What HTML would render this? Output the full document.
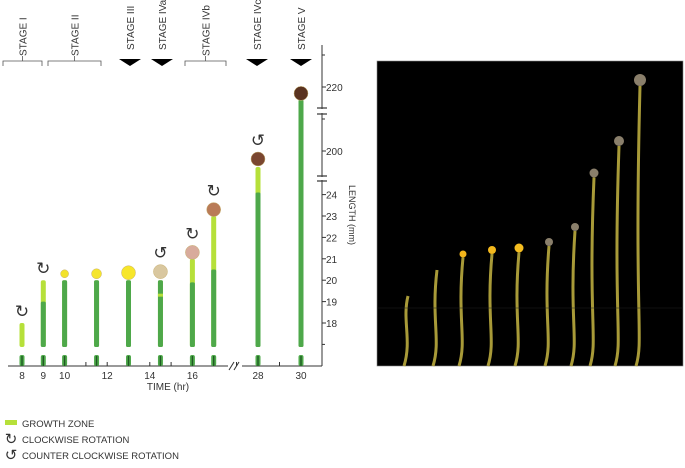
<!DOCTYPE html>
<html><head><meta charset="utf-8"><style>
body{margin:0;background:#fff;width:685px;height:463px;overflow:hidden;font-family:"Liberation Sans",sans-serif}
svg text{font-family:"Liberation Sans","DejaVu Sans",sans-serif;fill:#333}
</style></head><body>
<svg id="chart" width="685" height="463" viewBox="0 0 685 463"></svg>
<script>
const times=[8,9,10,11.5,13,14.5,16,17,28,30];
const darkTop=[16.8,19,20,20,20,20,19.9,20.5,24.1,216];
const lightTop=[18,20,20,20,20,20,21,23,195,216];
const headVal=[null,null,20.3,20.3,20.35,20.4,21.3,23.3,197.5,218];
const headR=[0,0,4,5,7,7,7,7,7,7];
const headColor=[null,null,'#f2e22a','#f5e52c','#f7e62a','#d9c79f','#d8ab9c','#b97b57','#7a4630','#5a3320'];
const rotation=['cw','cw',null,null,null,'ccw','cw','cw','ccw',null];
const xTickLabels=[8,9,10,12,14,16,28,30];
const yLowTicks=[18,19,20,21,22,23,24];
const yHighTicks=[200,220];
const stages=[['STAGE  I','b',3,42],['STAGE  II','b',48,101],['STAGE  III','a',130],['STAGE  IVa','a',162],['STAGE  IVb','b',185,226],['STAGE  IVc','a',257],['STAGE  V','a',301]];

const NS='http://www.w3.org/2000/svg';
const svg=document.getElementById('chart');
function mk(tag,attrs,parent){const e=document.createElementNS(NS,tag);for(const k in attrs)e.setAttribute(k,attrs[k]);(parent||svg).appendChild(e);return e;}
function xs(t){return t<=20?22+(t-8)*21.3:258+(t-28)*21.5;}
function ys(v){return v<=30?323-(v-18)*21.4:151-(v-200)*3.2;}
const DARK='#4ea84a',LIGHT='#b6e03a';

// photo
const ph=mk('rect',{x:377,y:61,width:306,height:305,fill:'#000',stroke:'#888','stroke-width':0.6});


const phx=[408,437,463,492,519,549,575,594,619,640];
const phTop=[296,270,254,250,248,242,227,173,141,80];
const phHead=[0,0,3.5,4,4.5,4,4,4.5,5,6];
const phCol=['','','#f3b51a','#f3b81d','#f5bd20','#8a7f6b','#8a7f6b','#8a7f6b','#8a7f6b','#8a7f6b'];
phx.forEach((x,i)=>{
  const p=mk('path',{d:`M${x-4} 366 C${x+4} 340 ${x-6} 320 ${x} ${phTop[i]+phHead[i]}`,fill:'none',stroke:'#a89a38','stroke-width':3});
  
  
  if(phHead[i]){const c=mk('circle',{cx:x,cy:phTop[i],r:phHead[i],fill:phCol[i]});
  
  }
});
mk('line',{x1:377,y1:308,x2:683,y2:308,stroke:'#222','stroke-width':0.6});

// axes
const xa=mk('line',{x1:8,y1:366,x2:322,y2:366,stroke:'#333','stroke-width':1});


const ya=mk('line',{x1:322,y1:45,x2:322,y2:366,stroke:'#333','stroke-width':1});


[[181,176],[114,108]].forEach(b=>{b.forEach(y=>mk('line',{x1:317,y1:y,x2:327,y2:y,stroke:'#333','stroke-width':1.2}));mk('rect',{x:320,y:b[1]+1,width:4,height:b[0]-b[1]-2,fill:'#fff'});});
mk('rect',{x:228,y:362,width:14,height:8,fill:'#fff'});
mk('line',{x1:229,y1:370,x2:234,y2:362,stroke:'#333'});mk('line',{x1:234,y1:370,x2:239,y2:362,stroke:'#333'});
[8,9,10,11,12,13,14,15,16,17].forEach(t=>mk('line',{x1:xs(t),y1:362,x2:xs(t),y2:366,stroke:'#333'}));
[27,28,29,30].forEach(t=>mk('line',{x1:xs(t),y1:362,x2:xs(t),y2:366,stroke:'#333'}));
xTickLabels.forEach(t=>{const e=mk('text',{x:xs(t),y:379,'font-size':10,'text-anchor':'middle'});e.textContent=t;

});
const xt=mk('text',{x:168,y:390,'font-size':10,'text-anchor':'middle'});xt.textContent='TIME (hr)';


yLowTicks.forEach(v=>{mk('line',{x1:322,y1:ys(v),x2:326,y2:ys(v),stroke:'#333'});const e=mk('text',{x:326,y:ys(v)+4,'font-size':10});e.textContent=v;

});
yHighTicks.forEach(v=>{mk('line',{x1:322,y1:ys(v),x2:326,y2:ys(v),stroke:'#333'});const e=mk('text',{x:326,y:ys(v)+4,'font-size':10});e.textContent=v;

});
[17.0,210,230].forEach(v=>mk('line',{x1:322,y1:ys(v),x2:325,y2:ys(v),stroke:'#333'}));
const yt=mk('text',{x:0,y:0,'font-size':9,transform:'translate(349,215) rotate(90)','text-anchor':'middle'});yt.textContent='LENGTH (mm)';



// bars
times.forEach((t,i)=>{
  const x=xs(t);
  const st=mk('rect',{x:x-2.5,y:355,width:5,height:11,rx:2,fill:DARK});
  
  
  mk('rect',{x:x-0.7,y:356,width:1.4,height:10,fill:'#1f5a22'});
  const lt=mk('rect',{x:x-2.5,y:ys(lightTop[i]),width:5,height:Math.max(0,347-ys(lightTop[i])),rx:2,fill:LIGHT});
  
  
  const dk=mk('rect',{x:x-2.5,y:ys(darkTop[i]),width:5,height:Math.max(0,347-ys(darkTop[i])),rx:1.5,fill:DARK});
  
  
  if(t===14.5) mk('rect',{x:x-2.5,y:ys(19.3)-1.5,width:5,height:3,fill:LIGHT});
  let topY=ys(lightTop[i]);
  if(headVal[i]!==null){
    const c=mk('circle',{cx:x,cy:ys(headVal[i]),r:headR[i],fill:headColor[i],stroke:'#c8b070','stroke-width':0.5});
    
    
    topY=ys(headVal[i])-headR[i];
  }
  if(rotation[i]){
    const r=mk('text',{x:x,y:topY-6,'font-size':17,'text-anchor':'middle',fill:'#333'});
    r.textContent=rotation[i]==='cw'?'\u21BB':'\u21BA';
    
    
  }
});

// stages
stages.forEach(s=>{
  const cx=s[1]==='b'?(s[2]+s[3])/2:s[2];
  const tx=mk('text',{x:0,y:0,'font-size':10,transform:`translate(${cx+4},${s[1]==='b'?56:50}) rotate(-90)`});tx.textContent=s[0];
  
  
  if(s[1]==='b'){
    const b=mk('path',{d:`M${s[2]} 66 V61 H${s[3]} V66 M${cx} 61 V56`,fill:'none',stroke:'#555','stroke-width':0.8});
    
    
  } else {
    const a=mk('path',{d:`M${cx-11} 59 H${cx+11} L${cx} 66 Z`,fill:'#000'});
    
    
  }
});

// legend
const lg=mk('g',{});


mk('rect',{x:5,y:420,width:12,height:5,fill:LIGHT},lg);
[['GROWTH  ZONE',427,null],['CLOCKWISE ROTATION',443,'\u21BB'],['COUNTER CLOCKWISE ROTATION',459,'\u21BA']].forEach(l=>{
  const t=mk('text',{x:22,y:l[1],'font-size':9.5},lg);t.textContent=l[0];
  
  
  if(l[2]){const ic=mk('text',{x:11,y:l[1]+1,'font-size':15,'text-anchor':'middle'},lg);ic.textContent=l[2];}
});
</script>
</body></html>
